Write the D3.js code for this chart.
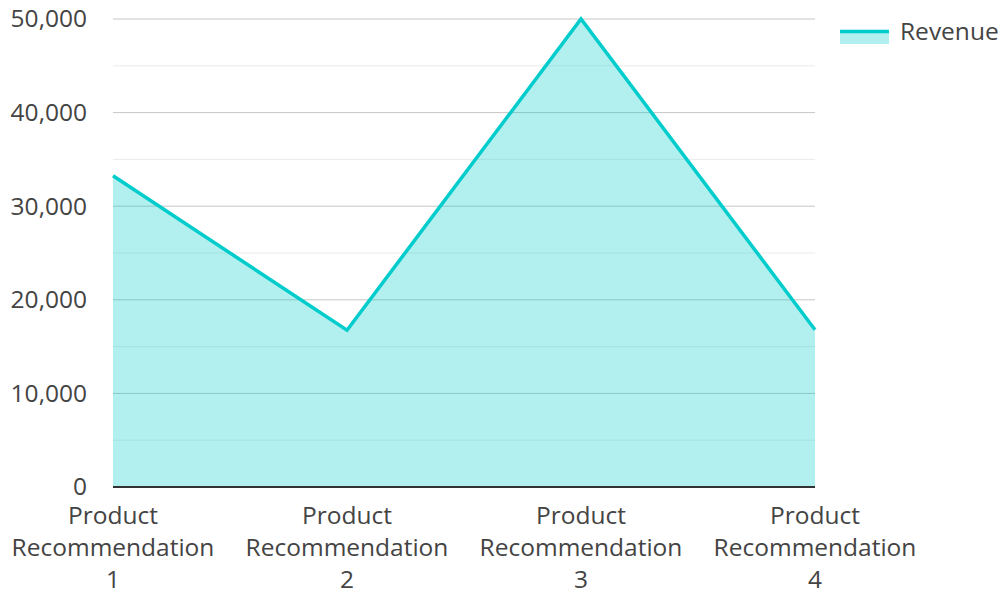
<!DOCTYPE html>
<html>
<head>
<meta charset="utf-8">
<script src="https://cdn.jsdelivr.net/npm/d3@7"></script>
<style>
  body { margin: 0; background: #fff; }
  svg text { font-family: 'Open Sans', 'Noto Sans', sans-serif; fill: #444; }
</style>
</head>
<body>
<div class="chart-wrapper"></div>
<script>
const lineColor = '#00cccc';
const fillColor = 'rgba(0, 204, 204, 0.3)';

let categories = [
    'Product Recommendation 1',
    'Product Recommendation 2',
    'Product Recommendation 3',
    'Product Recommendation 4'
];
let revenue = [33250, 16750, 50000, 16800];
let yTicks = [0, 10000, 20000, 30000, 40000, 50000];
let yMinorTicks = [5000, 15000, 25000, 35000, 45000];

let width = 1002;
let height = 589;
let margin = { top: 19, right: 187, bottom: 102, left: 113 };
let fontSize = 24.5;

let canvas = d3.select('.chart-wrapper').append('svg')
    .attr('width', width)
    .attr('height', height);

let x = d3.scalePoint()
    .domain(categories)
    .range([margin.left, width - margin.right]);

let y = d3.scaleLinear()
    .domain([0, 50000])
    .range([height - margin.bottom, margin.top]);

// minor grid
canvas.append('g')
    .selectAll('line')
    .data(yMinorTicks)
    .enter()
    .append('line')
    .attr('x1', margin.left)
    .attr('x2', width - margin.right)
    .attr('y1', (d) => y(d))
    .attr('y2', (d) => y(d))
    .attr('stroke', '#ebebeb')
    .attr('stroke-width', 1);

// major grid
canvas.append('g')
    .selectAll('line')
    .data(yTicks.filter((d) => d > 0))
    .enter()
    .append('line')
    .attr('x1', margin.left)
    .attr('x2', width - margin.right)
    .attr('y1', (d) => y(d))
    .attr('y2', (d) => y(d))
    .attr('stroke', '#c6c6c6')
    .attr('stroke-width', 1);

let points = categories.map((c, i) => ({ name: c, value: revenue[i] }));

let area = d3.area()
    .x((d) => x(d.name))
    .y0(y(0))
    .y1((d) => y(d.value));

let line = d3.line()
    .x((d) => x(d.name))
    .y((d) => y(d.value));

canvas.append('path')
    .datum(points)
    .attr('d', area)
    .attr('fill', fillColor);

canvas.append('path')
    .datum(points)
    .attr('d', line)
    .attr('fill', 'none')
    .attr('stroke', lineColor)
    .attr('stroke-width', 3.5)
    .attr('stroke-linejoin', 'miter');

// baseline
canvas.append('line')
    .attr('x1', margin.left)
    .attr('x2', width - margin.right)
    .attr('y1', y(0))
    .attr('y2', y(0))
    .attr('stroke', '#333')
    .attr('stroke-width', 2);

// y axis labels
let yAxis = d3.axisLeft(y)
    .tickValues(yTicks)
    .tickSize(0)
    .tickPadding(0)
    .tickFormat(d3.format(','));

let yAxisGroup = canvas.append('g')
    .attr('transform', `translate(${margin.left - 26}, 0)`)
    .call(yAxis);
yAxisGroup.select('.domain').remove();
yAxisGroup.selectAll('text')
    .attr('font-size', fontSize)
    .attr('fill', '#444')
    .attr('dy', '0.32em');

// x axis labels, wrapped in three lines
let xLabels = canvas.append('g')
    .selectAll('text')
    .data(categories)
    .enter()
    .append('text')
    .attr('x', (d) => x(d))
    .attr('y', 524)
    .attr('text-anchor', 'middle')
    .attr('font-size', fontSize);

xLabels.each(function (d) {
    let words = ['Product', 'Recommendation', d.split(' ')[2]];
    let el = d3.select(this);
    words.forEach((w, i) => {
        el.append('tspan')
            .attr('x', x(d))
            .attr('dy', i === 0 ? 0 : 32)
            .text(w);
    });
});

// legend
let legend = canvas.append('g');
legend.append('rect')
    .attr('x', 840)
    .attr('y', 30)
    .attr('width', 49)
    .attr('height', 14)
    .attr('fill', fillColor);
legend.append('line')
    .attr('x1', 840)
    .attr('x2', 889)
    .attr('y1', 31.5)
    .attr('y2', 31.5)
    .attr('stroke', lineColor)
    .attr('stroke-width', 3.5);
legend.append('text')
    .attr('x', 900)
    .attr('y', 40)
    .attr('font-size', fontSize)
    .text('Revenue');
</script>
</body>
</html>
